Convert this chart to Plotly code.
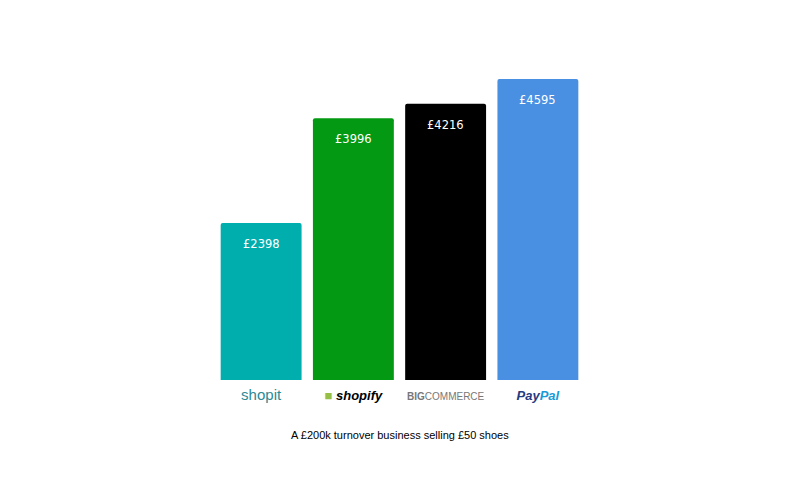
import plotly.graph_objects as go

platforms = ['shopit', 'shopify', 'bigcommerce', 'paypal']
fees = [2398, 3996, 4216, 4595]
colours = ['#00aeae', '#039912', '#000000', '#4a90e2']

# logos drawn as styled text
tick_labels = [
    '<span style="color:#2b8a95;font-size:15px">shopit</span>',
    '<span style="color:#95bf47">■</span> <b><i>shopify</i></b>',
    '<span style="color:#777777;font-size:10px"><b>BIG</b>COMMERCE</span>',
    '<b><i><span style="color:#253b80">Pay</span><span style="color:#179bd7">Pal</span></i></b>',
]
caption = 'A £200k turnover business selling £50 shoes'

fig = go.Figure()
fig.add_trace(go.Bar(x=platforms, y=fees, marker=dict(color=colours, line=dict(width=0)),
                     hoverinfo='skip'))

annotationList = []
for p, f in zip(platforms, fees):
    annotationList.append(dict(x=p, y=f, text='£' + str(f), showarrow=False, yshift=-21,
                               font=dict(color='white', size=11.5, family='DejaVu Sans')))
annotationList.append(dict(x=0.5, y=-0.21, xref='paper', yref='paper', text=caption,
                           showarrow=False, font=dict(size=11, color='black',
                                                      family='Liberation Sans')))

fig.update_layout(
    width=800, height=500,
    margin=dict(l=207, r=224, t=71, b=128),
    paper_bgcolor='white', plot_bgcolor='white',
    bargap=0.123, barcornerradius=2,
    showlegend=False,
    xaxis=dict(tickmode='array', tickvals=platforms, ticktext=tick_labels,
               showgrid=False, zeroline=False, showline=False, ticklabelstandoff=6,
               tickfont=dict(size=13, family='Liberation Sans', color='black')),
    yaxis=dict(range=[0, 4595], visible=False),
    annotations=annotationList,
)

fig.write_html('out.html')
